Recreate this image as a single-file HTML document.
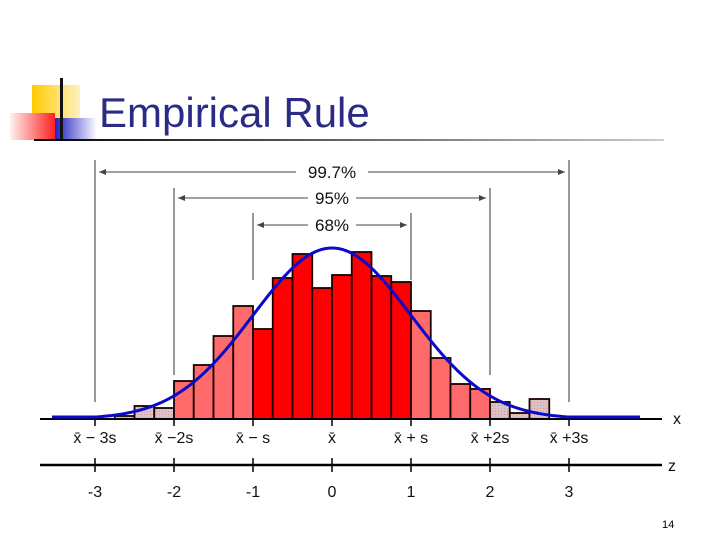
<!DOCTYPE html>
<html><head><meta charset="utf-8"><style>
body{margin:0;background:#fff;}
#slide{position:relative;width:720px;height:540px;overflow:hidden;background:#fff;font-family:"Liberation Sans",sans-serif;}
</style></head><body>
<div id="slide">
<svg width="720" height="540" viewBox="0 0 720 540">
<defs>
<linearGradient id="rg" x1="0" x2="1"><stop offset="0" stop-color="#fff0f0"/><stop offset="1" stop-color="#ff2020"/></linearGradient>
<linearGradient id="bg" x1="0" x2="1"><stop offset="0" stop-color="#2020c0"/><stop offset="1" stop-color="#ffffff"/></linearGradient>
<linearGradient id="yg" x1="0" x2="1"><stop offset="0" stop-color="#ffcc00"/><stop offset="1" stop-color="#fff0c0"/></linearGradient>
<linearGradient id="lg" x1="0" x2="1"><stop offset="0" stop-color="#000"/><stop offset="1" stop-color="#ccc"/></linearGradient>
<pattern id="tan" width="3" height="3" patternUnits="userSpaceOnUse"><rect width="3" height="3" fill="#d8c4c8"/><rect width="1" height="1" fill="#e89090"/></pattern>
</defs>
<g>
<rect x="32" y="85" width="48" height="36" fill="url(#yg)"/>
<rect x="55" y="118" width="42" height="22" fill="url(#bg)"/>
<rect x="10" y="113" width="45" height="27" fill="url(#rg)"/>
<rect x="60" y="78" width="3" height="63" fill="#111"/>
<rect x="34" y="139" width="630" height="2" fill="url(#lg)"/>
</g>
<text x="99" y="127" font-size="42" fill="#2b2b86">Empirical Rule</text>
<g id="chart"></g>
<text x="662" y="528" font-size="11" fill="#000">14</text>
</svg>
</div>
<script>
const binStartZ = -2.75;
const binWidthZ = 0.25;
const counts = [3,13,11,38,54,83,113,90,141,165,131,144,167,143,137,108,61,35,30,17,6,20];
const zTicks = [-3,-2,-1,0,1,2,3];
const xLabels = ["x̄ − 3s","x̄ −2s","x̄ − s","x̄","x̄ + s","x̄ +2s","x̄ +3s"];
const ranges = [{k:3,label:"99.7%"},{k:2,label:"95%"},{k:1,label:"68%"}];
const curvePeak = 171;

const NS="http://www.w3.org/2000/svg";
const g=document.getElementById('chart');
const X0=332, S=79, BASE=419, ZY=465;
const xs=z=>X0+z*S;
const ys=v=>BASE-v;
function mk(t,a,p){const e=document.createElementNS(NS,t);for(const k in a)e.setAttribute(k,a[k]);(p||g).appendChild(e);return e;}

const tops={3:160,2:188,1:213}, bots={3:402,2:375,1:280};
ranges.forEach(r=>{
  [-r.k,r.k].forEach(s=>{
    const l=mk('line',{x1:xs(s),x2:xs(s),y1:tops[r.k],y2:bots[r.k],stroke:'#999','stroke-width':2});
    
    
  });
});
counts.forEach((c,i)=>{
  const z0=binStartZ+i*binWidthZ, zc=z0+binWidthZ/2;
  const a=Math.abs(zc);
  const fill=a>2?'url(#tan)':(a>1?'#ff6a6a':'#ff0000');
  const r=mk('rect',{x:xs(z0),y:ys(c),width:binWidthZ*S,height:c,fill:fill,stroke:'#1a0000','stroke-width':1.8});
  
  
});
const xa=mk('line',{x1:40,x2:662,y1:BASE,y2:BASE,stroke:'#000','stroke-width':2});


const za=mk('line',{x1:40,x2:662,y1:ZY,y2:ZY,stroke:'#000','stroke-width':2.5});


let d='';
for(let px=52;px<=640;px++){const z=(px-X0)/S;const y=ys(curvePeak*Math.exp(-z*z/2));d+=(px==52?'M':'L')+px+' '+Math.min(y,417).toFixed(1);}
const cv=mk('path',{d:d,fill:'none',stroke:'#0a0ac8','stroke-width':3});


zTicks.forEach((z,i)=>{
  mk('line',{x1:xs(z),x2:xs(z),y1:BASE,y2:BASE+7,stroke:'#000','stroke-width':1.5});
  mk('line',{x1:xs(z),x2:xs(z),y1:ZY-7,y2:ZY+7,stroke:'#000','stroke-width':1.5});
  const t=mk('text',{x:xs(z),y:443,'font-size':16,'text-anchor':'middle',fill:'#111'});t.textContent=xLabels[i];
  
  
  const u=mk('text',{x:xs(z),y:497,'font-size':16,'text-anchor':'middle',fill:'#111'});u.textContent=String(z);
  
  
});
const xt=mk('text',{x:673,y:424,'font-size':16,fill:'#111'});xt.textContent='x';


const zt=mk('text',{x:668,y:471,'font-size':16,fill:'#111'});zt.textContent='z';


const ay={3:172,2:198,1:225};
ranges.forEach(r=>{
  const y=ay[r.k], x1=xs(-r.k)+4, x2=xs(r.k)-4, hw=r.label.length*6+6;
  mk('line',{x1:x1,x2:X0-hw,y1:y,y2:y,stroke:'#444','stroke-width':1});
  mk('line',{x1:X0+hw,x2:x2,y1:y,y2:y,stroke:'#444','stroke-width':1});
  mk('path',{d:`M${x1} ${y}l7 -3v6z M${x2} ${y}l-7 -3v6z`,fill:'#444'});
  const t=mk('text',{x:X0,y:y+6,'font-size':17,'text-anchor':'middle',fill:'#111'});t.textContent=r.label;
  
  
});
</script>
</body></html>
